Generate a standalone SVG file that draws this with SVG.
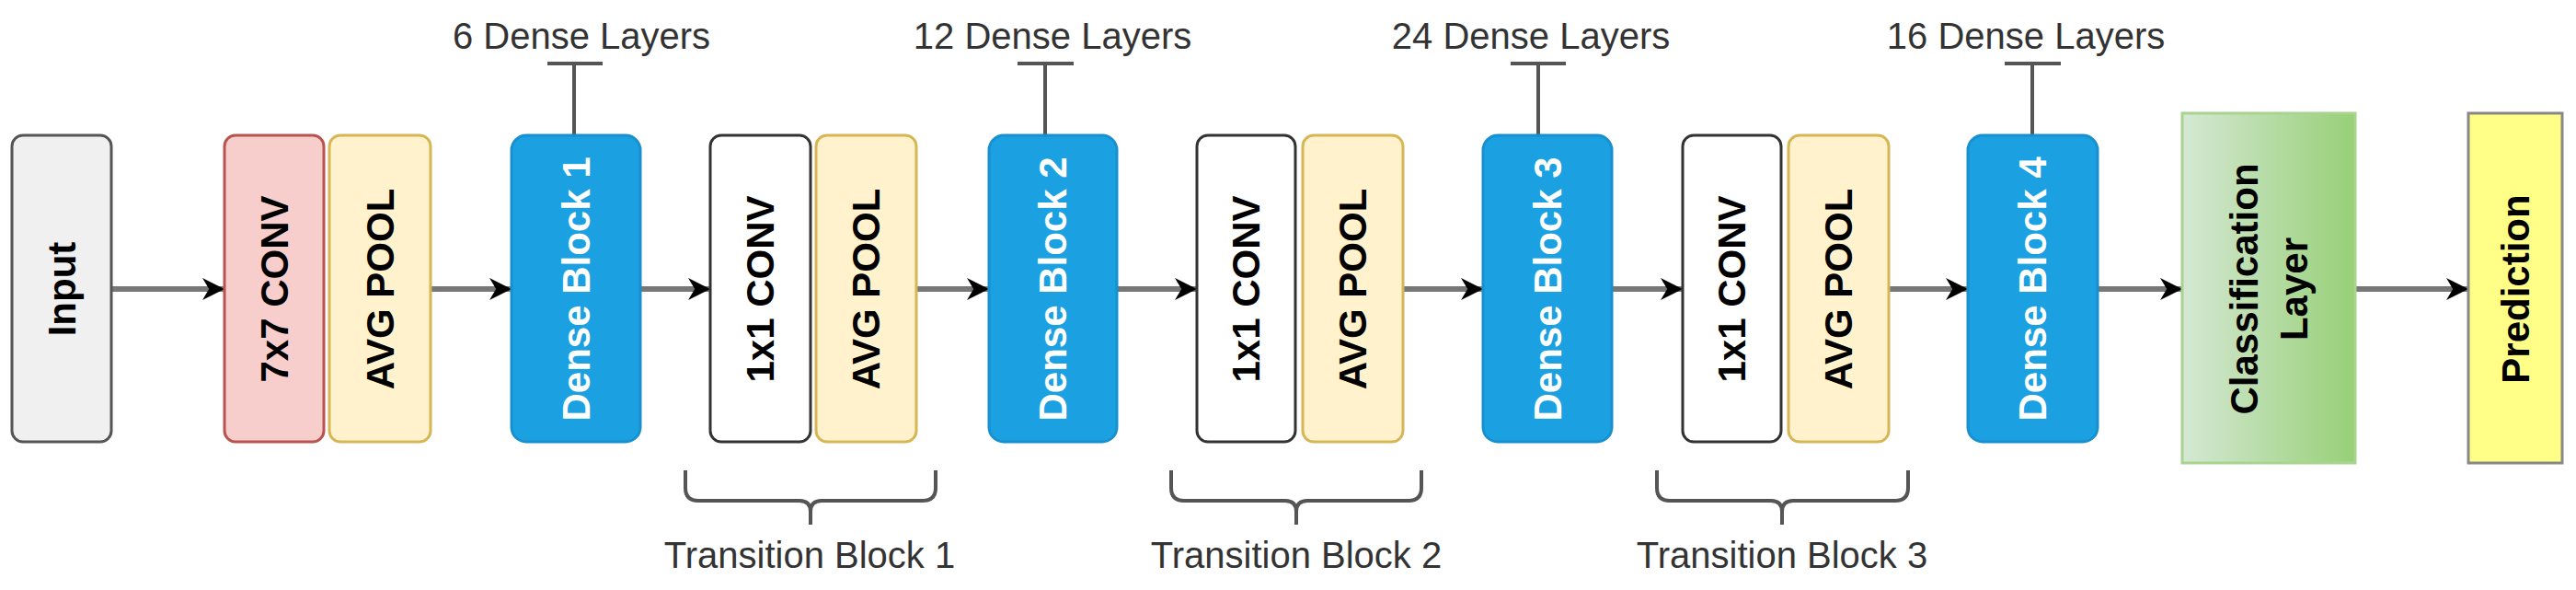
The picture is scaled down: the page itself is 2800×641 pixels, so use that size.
<svg xmlns="http://www.w3.org/2000/svg" width="2800" height="641" viewBox="0 0 2800 641">
<style>
.lbl{font-family:"Liberation Sans",Arial,sans-serif;font-weight:bold;font-size:42px;text-anchor:middle;dominant-baseline:central}
.cap{font-family:"Liberation Sans",Arial,sans-serif;font-size:40px;fill:#333;text-anchor:middle}
.tick{stroke:#555;stroke-width:4;fill:none}
.brace{stroke:#555;stroke-width:4;fill:none}
.arr{stroke:#777;stroke-width:6;fill:none;marker-end:url(#ah)}
</style>
<defs>
<marker id="ah" viewBox="0 0 10 10" refX="10" refY="5" markerWidth="4" markerHeight="4" orient="auto" markerUnits="strokeWidth"><path d="M0,0 L10,5 L0,10 L3,5 Z" fill="#000"/></marker>
<linearGradient id="gg" x1="0" y1="0" x2="1" y2="0"><stop offset="0" stop-color="#d5e8d4"/><stop offset="1" stop-color="#97d077"/></linearGradient>
</defs>
<rect width="2800" height="641" fill="#fff"/>
<g id="connectors">
<path class="arr" d="M121,314 H244"/>
<path class="arr" d="M468,314 H556"/>
<path class="arr" d="M696,314 H772"/>
<path class="arr" d="M996,314 H1075"/>
<path class="arr" d="M1214,314 H1301"/>
<path class="arr" d="M1525,314 H1612"/>
<path class="arr" d="M1752,314 H1829"/>
<path class="arr" d="M2053,314 H2139"/>
<path class="arr" d="M2280,314 H2372"/>
<path class="arr" d="M2560,314 H2683"/>
<path class="tick" d="M624,147 V69 M595,69 H655"/>
<path class="tick" d="M1136,147 V69 M1106,69 H1167"/>
<path class="tick" d="M1672,147 V69 M1642,69 H1702"/>
<path class="tick" d="M2209,147 V69 M2179,69 H2240"/>
<path class="brace" d="M745,511 V530 Q745,544 759,544 H869 Q881,544 881,556 V570 M881,556 Q881,544 893,544 H1003 Q1017,544 1017,530 V511"/>
<path class="brace" d="M1273,511 V530 Q1273,544 1287,544 H1397 Q1409,544 1409,556 V570 M1409,556 Q1409,544 1421,544 H1531 Q1545,544 1545,530 V511"/>
<path class="brace" d="M1801,511 V530 Q1801,544 1815,544 H1925 Q1937,544 1937,556 V570 M1937,556 Q1937,544 1949,544 H2060 Q2074,544 2074,530 V511"/>
</g>
<g id="input"><rect x="13" y="147" width="108" height="333" rx="12" fill="#f0f0f0" stroke="#555" stroke-width="3"/><text class="lbl" transform="translate(67,314) rotate(-90)">Input</text></g>
<g id="conv7"><rect x="244" y="147" width="108" height="333" rx="12" fill="#f8cecc" stroke="#b85450" stroke-width="3"/><text class="lbl" transform="translate(298,314) rotate(-90)">7x7 CONV</text></g>
<g id="pool0"><rect x="358" y="147" width="110" height="333" rx="12" fill="#fff2cc" stroke="#d6b656" stroke-width="3"/><text class="lbl" transform="translate(413,314) rotate(-90)">AVG POOL</text></g>
<g id="db1"><rect x="556" y="147" width="140" height="333" rx="16" fill="#1ba1e2" stroke="#1890d0" stroke-width="3"/><text class="lbl" fill="#fff" transform="translate(626,314) rotate(-90)">Dense Block 1</text></g>
<g id="conv1"><rect x="772" y="147" width="109" height="333" rx="12" fill="#fff" stroke="#333" stroke-width="3"/><text class="lbl" transform="translate(826,314) rotate(-90)">1x1 CONV</text></g>
<g id="pool1"><rect x="887" y="147" width="109" height="333" rx="12" fill="#fff2cc" stroke="#d6b656" stroke-width="3"/><text class="lbl" transform="translate(941,314) rotate(-90)">AVG POOL</text></g>
<g id="db2"><rect x="1075" y="147" width="139" height="333" rx="16" fill="#1ba1e2" stroke="#1890d0" stroke-width="3"/><text class="lbl" fill="#fff" transform="translate(1144,314) rotate(-90)">Dense Block 2</text></g>
<g id="conv2"><rect x="1301" y="147" width="107" height="333" rx="12" fill="#fff" stroke="#333" stroke-width="3"/><text class="lbl" transform="translate(1354,314) rotate(-90)">1x1 CONV</text></g>
<g id="pool2"><rect x="1416" y="147" width="109" height="333" rx="12" fill="#fff2cc" stroke="#d6b656" stroke-width="3"/><text class="lbl" transform="translate(1470,314) rotate(-90)">AVG POOL</text></g>
<g id="db3"><rect x="1612" y="147" width="140" height="333" rx="16" fill="#1ba1e2" stroke="#1890d0" stroke-width="3"/><text class="lbl" fill="#fff" transform="translate(1682,314) rotate(-90)">Dense Block 3</text></g>
<g id="conv3"><rect x="1829" y="147" width="107" height="333" rx="12" fill="#fff" stroke="#333" stroke-width="3"/><text class="lbl" transform="translate(1882,314) rotate(-90)">1x1 CONV</text></g>
<g id="pool3"><rect x="1944" y="147" width="109" height="333" rx="12" fill="#fff2cc" stroke="#d6b656" stroke-width="3"/><text class="lbl" transform="translate(1998,314) rotate(-90)">AVG POOL</text></g>
<g id="db4"><rect x="2139" y="147" width="141" height="333" rx="16" fill="#1ba1e2" stroke="#1890d0" stroke-width="3"/><text class="lbl" fill="#fff" transform="translate(2209,314) rotate(-90)">Dense Block 4</text></g>
<g id="classification"><rect x="2372" y="123" width="188" height="380" fill="url(#gg)" stroke="#a8d490" stroke-width="3"/><text class="lbl" transform="translate(2466,314) rotate(-90)"><tspan x="0" dy="-27">Classification</tspan><tspan x="0" dy="54">Layer</tspan></text></g>
<g id="prediction"><rect x="2683" y="123" width="102" height="380" fill="#ffff88" stroke="#888" stroke-width="3"/><text class="lbl" transform="translate(2734,314) rotate(-90)">Prediction</text></g>
<g id="labels">
<text class="cap" x="632" y="53">6 Dense Layers</text>
<text class="cap" x="1144" y="53">12 Dense Layers</text>
<text class="cap" x="1664" y="53">24 Dense Layers</text>
<text class="cap" x="2202" y="53">16 Dense Layers</text>
<text class="cap" x="880" y="617">Transition Block 1</text>
<text class="cap" x="1409" y="617">Transition Block 2</text>
<text class="cap" x="1937" y="617">Transition Block 3</text>
</g>
</svg>
